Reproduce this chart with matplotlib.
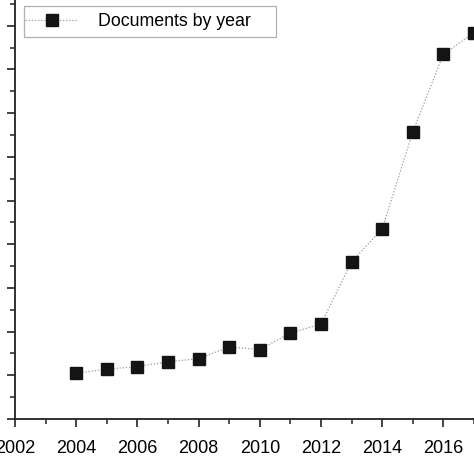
import matplotlib
matplotlib.use("Agg")
from matplotlib import pyplot as plt
from matplotlib.patches import Rectangle
from matplotlib.ticker import MultipleLocator

# documents per year (y axis has no labels in the source, arbitrary units)
years = [2004, 2005, 2006, 2007, 2008, 2009, 2010, 2011, 2012, 2013, 2014, 2015, 2016, 2017]
documents = [10.5, 11.4, 12.0, 13.1, 13.8, 16.5, 15.9, 19.7, 21.7, 36.0, 43.5, 65.7, 83.5, 88.4]
x_ticks = [2002, 2004, 2006, 2008, 2010, 2012, 2014, 2016]
series_label = "Documents by year"

plt.rcParams["font.family"] = ["Liberation Sans", "DejaVu Sans"]

W = 474
fig = plt.figure(figsize=(4.74, 4.74), dpi=100)
ax = fig.add_axes([15 / W, 55 / W, 462 / W, 419 / W])

ax.plot(years, documents, linestyle=(0, (1, 1.5)), color="#9a9a9a", linewidth=0.9,
        marker="s", markersize=8.5, markerfacecolor="#141414",
        markeredgecolor="#141414", label=series_label)

ax.set_xlim(2002, 2017.1)
ax.set_ylim(0, 95.9)
ax.set_xticks(x_ticks)
ax.set_xticklabels([str(t) for t in x_ticks])
ax.xaxis.set_minor_locator(MultipleLocator(1))
ax.yaxis.set_major_locator(MultipleLocator(10))
ax.yaxis.set_minor_locator(MultipleLocator(5))
ax.set_yticklabels([])

for side in ("top", "right"):
    ax.spines[side].set_visible(False)
for side in ("left", "bottom"):
    ax.spines[side].set_linewidth(1.3)
    ax.spines[side].set_color("#222222")

ax.tick_params(axis="both", which="major", direction="out", length=6, width=1.2,
               color="#222222", labelsize=13, pad=9)
ax.tick_params(axis="both", which="minor", direction="out", length=3.5, width=1.1,
               color="#222222")
ax.tick_params(axis="y", which="both", pad=2)

# legend box drawn by hand: wider padding on the right than matplotlib gives
frame = Rectangle((24 / W, 1 - 37 / W), 252 / W, 31 / W, transform=fig.transFigure,
                  facecolor="white", edgecolor="#b0b0b0", linewidth=0.9,
                  zorder=4, clip_on=False)
ax.add_patch(frame)

leg = ax.legend(loc="center left", bbox_to_anchor=(25 / W, 1 - 22 / W),
                bbox_transform=fig.transFigure, frameon=False, fontsize=12.8,
                borderpad=0, borderaxespad=0, handlelength=3.0, handletextpad=1.1)
leg.set_zorder(6)

fig.savefig("out.png", dpi=100)
